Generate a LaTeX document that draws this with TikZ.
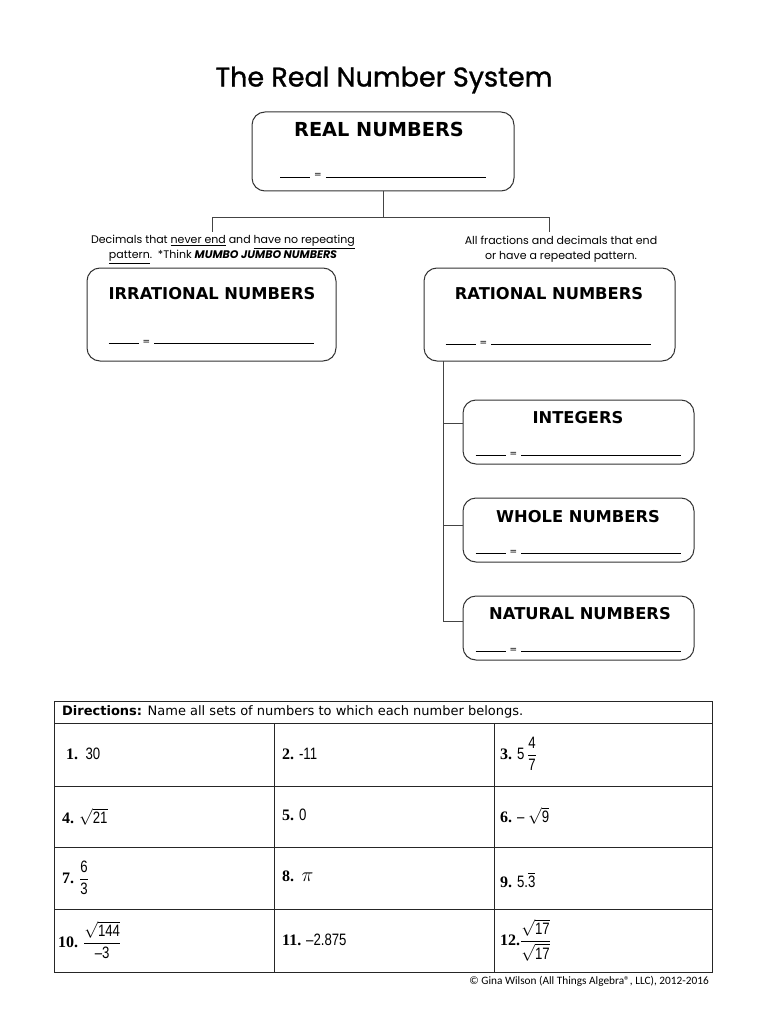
\RequirePackage{fix-cm}
\documentclass[tikz,border=0pt]{standalone}
\usepackage{amsmath}
\usepackage{fontspec}
\setmainfont{DejaVu Sans}
\newfontfamily\titlef[FakeBold=1.2]{Poppins}
\newfontfamily\boxf{DejaVu Sans}
\newfontfamily\descf{Poppins}
\newfontfamily\dirf{DejaVu Sans}
\newfontfamily\numf{Liberation Serif}
\newfontfamily\valf[FakeStretch=0.8]{Liberation Sans}
\newfontfamily\copyf{Carlito}
\definecolor{boxc}{HTML}{333333}
\definecolor{linec}{HTML}{444444}
\newcommand{\blanks}{\rule{30pt}{0.8pt}\hspace{4pt}{\fontsize{9}{9}\selectfont=}\hspace{4pt}\rule{160pt}{0.8pt}}
\newcommand{\V}[1]{\hbox{\valf #1}}
\begin{document}
\begin{tikzpicture}[x=1pt,y=-1pt,
  rbox/.style={draw=boxc, line width=1pt, rounded corners=13pt, inner sep=0pt},
  btitle/.style={font=\boxf\bfseries\fontsize{16.3}{18}\selectfont, inner sep=0pt},
  blank/.style={anchor=base, inner sep=0pt},
  desc/.style={font=\descf\fontsize{11}{15}\selectfont, align=center, inner sep=0pt},
  conn/.style={draw=linec, line width=0.9pt},
  grid/.style={draw=black!85, line width=1pt},
  cell/.style={anchor=west, inner sep=0pt, font=\valf\fontsize{16.5}{18}\selectfont},
]
\useasboundingbox (0,0) rectangle (768,1024);
\fill[white] (0,0) rectangle (768,1024);

% title
\node[font=\titlef\fontsize{27}{30}\selectfont, inner sep=0pt] (title) at (384,80) {The Real Number System};

% boxes
\node[rbox, minimum width=262pt, minimum height=79pt] (real) at (383,151.5) {};
\node[btitle, font=\boxf\bfseries\fontsize{19.3}{21}\selectfont] (realt) at (379,129) {REAL NUMBERS};
\node[blank] (realb) at (383,178) {\blanks};

\node[rbox, minimum width=249pt, minimum height=93pt] (irr) at (211.5,314.5) {};
\node[btitle] (irrt) at (212,294) {IRRATIONAL NUMBERS};
\node[blank] (irrb) at (211.5,344) {\blanks};

\node[rbox, minimum width=251pt, minimum height=93pt] (rat) at (549.5,314.5) {};
\node[btitle] (ratt) at (549,294) {RATIONAL NUMBERS};
\node[blank] (ratb) at (548.5,345) {\blanks};

\node[rbox, minimum width=231pt, minimum height=64pt] (int) at (578.5,432) {};
\node[btitle] (intt) at (578,418) {INTEGERS};
\node[blank] (intb) at (578.5,456) {\blanks};

\node[rbox, minimum width=231pt, minimum height=64pt] (whole) at (578.5,530) {};
\node[btitle] (wholet) at (578,517) {WHOLE NUMBERS};
\node[blank] (wholeb) at (578.5,554) {\blanks};

\node[rbox, minimum width=231pt, minimum height=64pt] (nat) at (578.5,628) {};
\node[btitle] (natt) at (580,614) {NATURAL NUMBERS};
\node[blank] (natb) at (578.5,652) {\blanks};

% descriptions
\node[desc] (ldesc) at (223,249.5) {Decimals that \underline{never end} and \underline{have no repeating}\\
\underline{pattern}.\ \ *Think \textbf{\itshape MUMBO JUMBO NUMBERS}};
\node[desc] (rdesc) at (561,249.5) {All fractions and decimals that end\\or have a repeated pattern.};

% connectors
\coordinate (jl) at (212,217);
\coordinate (jr) at (549,217);
\coordinate (dl) at (212,232);
\coordinate (dr) at (549,232);
\draw[conn] (real.south) -- (real.south |- jl);
\draw[conn] (dl) -- (jl) -- (jr) -- (dr);
\coordinate (rtop) at (443,361);
\coordinate (rbot) at (443,621);
\draw[conn] (rtop) -- (rbot) -- ([yshift=7pt]nat.west);
\draw[conn] (rtop |- 0,423) -- ([yshift=9pt]int.west);
\draw[conn] (rtop |- 0,525) -- ([yshift=5pt]whole.west);

% table
\draw[grid] (54,701) rectangle (712,972);
\draw[grid] (54,723) -- (712,723);
\draw[grid] (54,786) -- (712,786);
\draw[grid] (54,847) -- (712,847);
\draw[grid] (54,909) -- (712,909);
\draw[grid] (274,723) -- (274,972);
\draw[grid] (494,723) -- (494,972);

\node[anchor=west, inner sep=0pt, font=\dirf\fontsize{13}{15}\selectfont] (dir) at (62,712) {\textbf{Directions:} Name all sets of numbers to which each number belongs.};

\newcommand{\N}[1]{{\numf\bfseries\fontsize{16}{18}\selectfont #1}}
\node[cell] (c1) at (66,754) {\N{1.}\ \ 30};
\node[cell] (c2) at (282,754) {\N{2.} -11};
\node[cell] (c3) at (500,754) {\N{3.} 5\,$\dfrac{\V{4}}{\V{7}}$};
\node[cell] (c4) at (62,817) {\N{4.} $\sqrt{\V{21}}$};
\node[cell] (c5) at (282,815) {\N{5.} 0};
\node[cell] (c6) at (500,816) {\N{6.} – $\sqrt{\V{9}}$};
\node[cell] (c7) at (62,878) {\N{7.} $\dfrac{\V{6}}{\V{3}}$};
\node[cell] (c8) at (282,876) {\N{8.}\ \ {\fontsize{20}{22}\selectfont$\pi$}};
\node[cell] (c9) at (500,880) {\N{9.} 5.$\overline{\V{3}}$};
\node[cell] (c10) at (58,940) {\N{10.} $\dfrac{\sqrt{\V{144}}}{\V{–3}}$};
\node[cell] (c11) at (282,940) {\N{11.} –2.875};
\node[cell] (c12) at (500,940) {\N{12.}$\dfrac{\sqrt{\V{17}}}{\sqrt{\V{17}}}$};

\node[anchor=east, inner sep=0pt, font=\copyf\fontsize{11.3}{12}\selectfont] (copy) at (709,981) {© Gina Wilson (All Things Algebra®, LLC), 2012-2016};
\end{tikzpicture}
\end{document}
